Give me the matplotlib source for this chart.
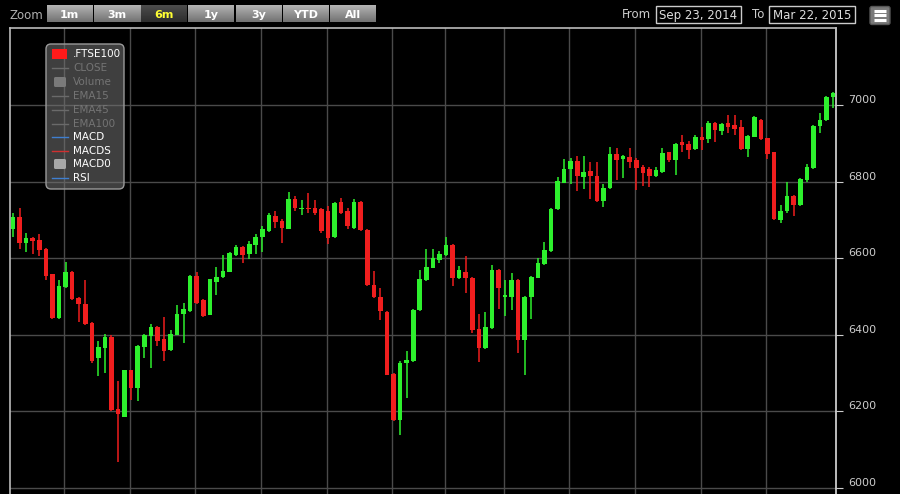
import matplotlib
matplotlib.use('Agg')
import matplotlib.pyplot as plt
from matplotlib.patches import FancyBboxPatch, Rectangle
import numpy as np
import pandas as pd

# trading days shown (Sep 23 sits just off the left edge)
uk_holidays = ['2014-12-25', '2014-12-26', '2015-01-01']
dates = pd.bdate_range('2014-09-24', '2015-03-23')
dates = dates[~dates.isin(pd.to_datetime(uk_holidays))]

opens = [6677, 6708, 6640, 6653, 6648, 6624, 6558, 6444, 6525, 6565,
         6497, 6481, 6431, 6340, 6365, 6393, 6206, 6186, 6307, 6261,
         6369, 6397, 6419, 6389, 6359, 6400, 6453, 6462, 6554, 6490,
         6452, 6538, 6550, 6565, 6609, 6628, 6611, 6635, 6656, 6670,
         6710, 6697, 6677, 6754, 6728, 6732, 6732, 6728, 6724, 6656,
         6747, 6723, 6679, 6747, 6673, 6530, 6499, 6459, 6298, 6177,
         6327, 6331, 6464, 6543, 6575, 6594, 6609, 6635, 6547, 6565,
         6547, 6416, 6365, 6418, 6569, 6499, 6499, 6543, 6385, 6499,
         6549, 6585, 6618, 6727, 6797, 6834, 6854, 6813, 6828, 6815,
         6749, 6782, 6872, 6858, 6865, 6856, 6839, 6832, 6815, 6826,
         6876, 6855, 6902, 6898, 6884, 6916, 6910, 6952, 6933, 6952,
         6948, 6942, 6884, 6917, 6961, 6913, 6876, 6700, 6722, 6761,
         6739, 6803, 6835, 6945, 6961, 7022]
highs = [6719, 6730, 6666, 6656, 6662, 6626, 6558, 6543, 6591, 6567,
         6499, 6544, 6433, 6384, 6402, 6400, 6278, 6308, 6309, 6373,
         6402, 6428, 6424, 6446, 6411, 6477, 6483, 6556, 6563, 6493,
         6546, 6578, 6609, 6615, 6635, 6631, 6644, 6662, 6684, 6719,
         6723, 6701, 6774, 6763, 6752, 6770, 6752, 6732, 6737, 6747,
         6756, 6730, 6754, 6749, 6675, 6567, 6521, 6463, 6300, 6331,
         6358, 6468, 6569, 6624, 6624, 6618, 6655, 6638, 6580, 6606,
         6552, 6455, 6460, 6582, 6571, 6543, 6561, 6545, 6501, 6554,
         6600, 6641, 6731, 6811, 6859, 6861, 6868, 6868, 6850, 6850,
         6793, 6889, 6887, 6870, 6887, 6861, 6843, 6837, 6837, 6887,
         6878, 6900, 6922, 6907, 6922, 6943, 6959, 6956, 6952, 6974,
         6974, 6961, 6922, 6970, 6963, 6915, 6878, 6739, 6800, 6765,
         6809, 6846, 6947, 6980, 7023, 7035]
lows = [6655, 6624, 6615, 6611, 6606, 6543, 6442, 6442, 6523, 6491,
        6432, 6426, 6327, 6292, 6300, 6202, 6067, 6184, 6230, 6227,
        6340, 6314, 6371, 6331, 6358, 6398, 6378, 6460, 6480, 6447,
        6451, 6503, 6547, 6563, 6606, 6587, 6597, 6611, 6615, 6668,
        6679, 6640, 6675, 6723, 6712, 6719, 6712, 6666, 6638, 6653,
        6715, 6675, 6677, 6670, 6527, 6497, 6439, 6294, 6174, 6139,
        6234, 6330, 6462, 6539, 6574, 6587, 6606, 6527, 6545, 6508,
        6404, 6328, 6363, 6416, 6468, 6448, 6464, 6352, 6296, 6442,
        6547, 6582, 6616, 6726, 6796, 6793, 6775, 6780, 6754, 6747,
        6734, 6780, 6804, 6809, 6835, 6778, 6789, 6785, 6813, 6823,
        6852, 6817, 6878, 6858, 6883, 6883, 6900, 6904, 6922, 6926,
        6922, 6883, 6863, 6916, 6909, 6858, 6700, 6693, 6719, 6710,
        6736, 6800, 6833, 6926, 6959, 6991]
closes = [6708, 6640, 6653, 6644, 6620, 6554, 6444, 6527, 6565, 6493,
          6481, 6428, 6331, 6367, 6393, 6204, 6192, 6307, 6261, 6371,
          6399, 6419, 6384, 6358, 6402, 6455, 6466, 6554, 6484, 6450,
          6545, 6552, 6567, 6613, 6628, 6609, 6638, 6656, 6675, 6712,
          6694, 6679, 6754, 6730, 6732, 6728, 6719, 6670, 6653, 6744,
          6719, 6684, 6747, 6673, 6530, 6499, 6463, 6296, 6177, 6327,
          6333, 6465, 6545, 6578, 6600, 6611, 6635, 6547, 6568, 6547,
          6413, 6365, 6420, 6569, 6521, 6504, 6543, 6385, 6499, 6552,
          6587, 6620, 6729, 6802, 6834, 6854, 6815, 6825, 6815, 6749,
          6784, 6872, 6856, 6867, 6852, 6835, 6823, 6815, 6829, 6874,
          6855, 6898, 6896, 6883, 6917, 6909, 6952, 6935, 6950, 6943,
          6936, 6884, 6919, 6968, 6910, 6872, 6702, 6724, 6762, 6739,
          6806, 6837, 6945, 6961, 7022, 7032]

price_ticks = [6000, 6200, 6400, 6600, 6800, 7000]
zoom_buttons = ['1m', '3m', '6m', '1y', '3y', 'YTD', 'All']
range_from = 'Sep 23, 2014'
range_to = 'Mar 22, 2015'
legend_names = ['.FTSE100', 'CLOSE', 'Volume', 'EMA15', 'EMA45', 'EMA100',
                'MACD', 'MACDS', 'MACD0', 'RSI']

o = np.array(opens, float)
h = np.array(highs, float)
l = np.array(lows, float)
c = np.array(closes, float)
x = np.arange(len(dates))

GREEN = '#2df02d'
RED = '#f01e1e'

fig = plt.figure(figsize=(9, 4.94), dpi=100, facecolor='black')
ax = fig.add_axes([10 / 900, 0, 826 / 900, 466 / 494], facecolor='black')

# biweekly grid on mondays
ref = pd.Timestamp('2014-10-06')
for i, d in enumerate(dates):
    if d.weekday() == 0 and (d - ref).days % 14 == 0 and i < len(dates) - 2:
        ax.axvline(i - 0.2, color='#4a4a4a', lw=1, zorder=0)

up = c >= o
cols = np.where(up, GREEN, RED)
ax.vlines(x, l, h, colors=cols, lw=1.1, zorder=2)
body_lo = np.minimum(o, c)
body_h = np.maximum(np.abs(c - o), 3.5)
ax.bar(x, body_h, bottom=body_lo, width=0.7, color=cols, lw=0, zorder=3)

ax.set_xlim(-0.47, 125.45)
ax.set_ylim(5984, 7201)
ax.set_yticks(price_ticks)
ax.yaxis.grid(True, color='#4a4a4a', lw=1)
ax.set_axisbelow(True)
ax.set_xticks([])
ax.yaxis.tick_right()
ax.tick_params(axis='y', length=5, color='#cccccc', labelright=False, labelleft=False)
for s in ['bottom']:
    ax.spines[s].set_visible(False)
ax.spines['left'].set_color('#bbbbbb')
ax.spines['top'].set_color('#bbbbbb')
ax.spines['right'].set_color('#dddddd')
for s in ['left', 'top', 'right']:
    ax.spines[s].set_linewidth(1.2)

for v in price_ticks:
    ax.annotate(str(v), xy=(1, v), xycoords=('axes fraction', 'data'),
                xytext=(12, 5), textcoords='offset pixels', va='center',
                ha='left', color='#cccccc', fontsize=8, annotation_clip=False)

# toolbar + legend drawn in pixel coords
ui = fig.add_axes([0, 0, 1, 1], zorder=5)
ui.patch.set_alpha(0)
ui.axis('off')

ui.text(10, 15.5, 'Zoom', color='#b0b0b0', fontsize=8.5, va='center', ha='left')
grad = np.linspace(0, 1, 20).reshape(-1, 1)
for i, b in enumerate(zoom_buttons):
    x0 = 46.5 + i * 47.3
    sel = b == '6m'
    cmap = 'Greys_r'
    if sel:
        ui.imshow(0.18 + 0.12 * (1 - grad), extent=(x0, x0 + 46, 22.5, 6), cmap='gray',
                  vmin=0, vmax=1, aspect='auto', zorder=1)
    else:
        ui.imshow(0.45 + 0.25 * (1 - grad), extent=(x0, x0 + 46, 22.5, 6), cmap='gray',
                  vmin=0, vmax=1, aspect='auto', zorder=1)
    ui.text(x0 + 23, 14.5, b, color='#ffff33' if sel else 'white', fontsize=8,
            fontweight='bold', ha='center', va='center', zorder=2)

ui.text(622, 15, 'From', color='#cccccc', fontsize=8.5, va='center', ha='left')
ui.add_patch(Rectangle((656, 6), 85, 17, facecolor='black', edgecolor='#cccccc', lw=1))
ui.text(698.5, 15, range_from, color='#dddddd', fontsize=8.5, va='center', ha='center')
ui.text(752, 15, 'To', color='#cccccc', fontsize=8.5, va='center', ha='left')
ui.add_patch(Rectangle((769, 6), 86, 17, facecolor='black', edgecolor='#cccccc', lw=1))
ui.text(812, 15, range_to, color='#dddddd', fontsize=8.5, va='center', ha='center')

ui.add_patch(FancyBboxPatch((870, 6.5), 20, 18, boxstyle='round,pad=0,rounding_size=2',
                            facecolor='#7a7a7a', edgecolor='#555555', lw=1))
for yy in [11, 15.5, 20]:
    ui.plot([874, 886], [yy, yy], color='white', lw=2.2, solid_capstyle='butt')

# legend box
ui.add_patch(FancyBboxPatch((46, 44), 78, 145, boxstyle='round,pad=0,rounding_size=5',
                            facecolor=(0.45, 0.45, 0.45, 0.55), edgecolor='#9a9a9a', lw=1, zorder=3))
leg_y = [54, 68, 82, 96, 110, 124, 137, 151, 164, 178]
active = [True, False, False, False, False, False, True, True, True, True]
for name, yy, act in zip(legend_names, leg_y, active):
    tc = 'white' if act else '#747474'
    ui.text(73, yy, name, color=tc, fontsize=7.5, va='center', ha='left', zorder=4)
    if name == '.FTSE100':
        ui.add_patch(Rectangle((52, yy - 5), 15, 10, facecolor='#ff1a1a', lw=0, zorder=4))
    elif name == 'Volume':
        ui.add_patch(FancyBboxPatch((54, yy - 5), 12, 10, boxstyle='round,pad=0,rounding_size=1.5',
                                    facecolor='#7a7a7a', lw=0, zorder=4))
    elif name == 'MACD0':
        ui.add_patch(FancyBboxPatch((54, yy - 5), 12, 10, boxstyle='round,pad=0,rounding_size=1.5',
                                    facecolor='#a8a8a8', lw=0, zorder=4))
    else:
        lc = {'MACD': '#3f7fd0', 'MACDS': '#d03030', 'RSI': '#3f7fd0'}.get(name, '#6a6a6a')
        ui.plot([52, 68], [yy, yy], color=lc, lw=1, zorder=4)

ui.set_xlim(0, 900)
ui.set_ylim(494, 0)

fig.savefig('out.png', dpi=100, facecolor='black')
